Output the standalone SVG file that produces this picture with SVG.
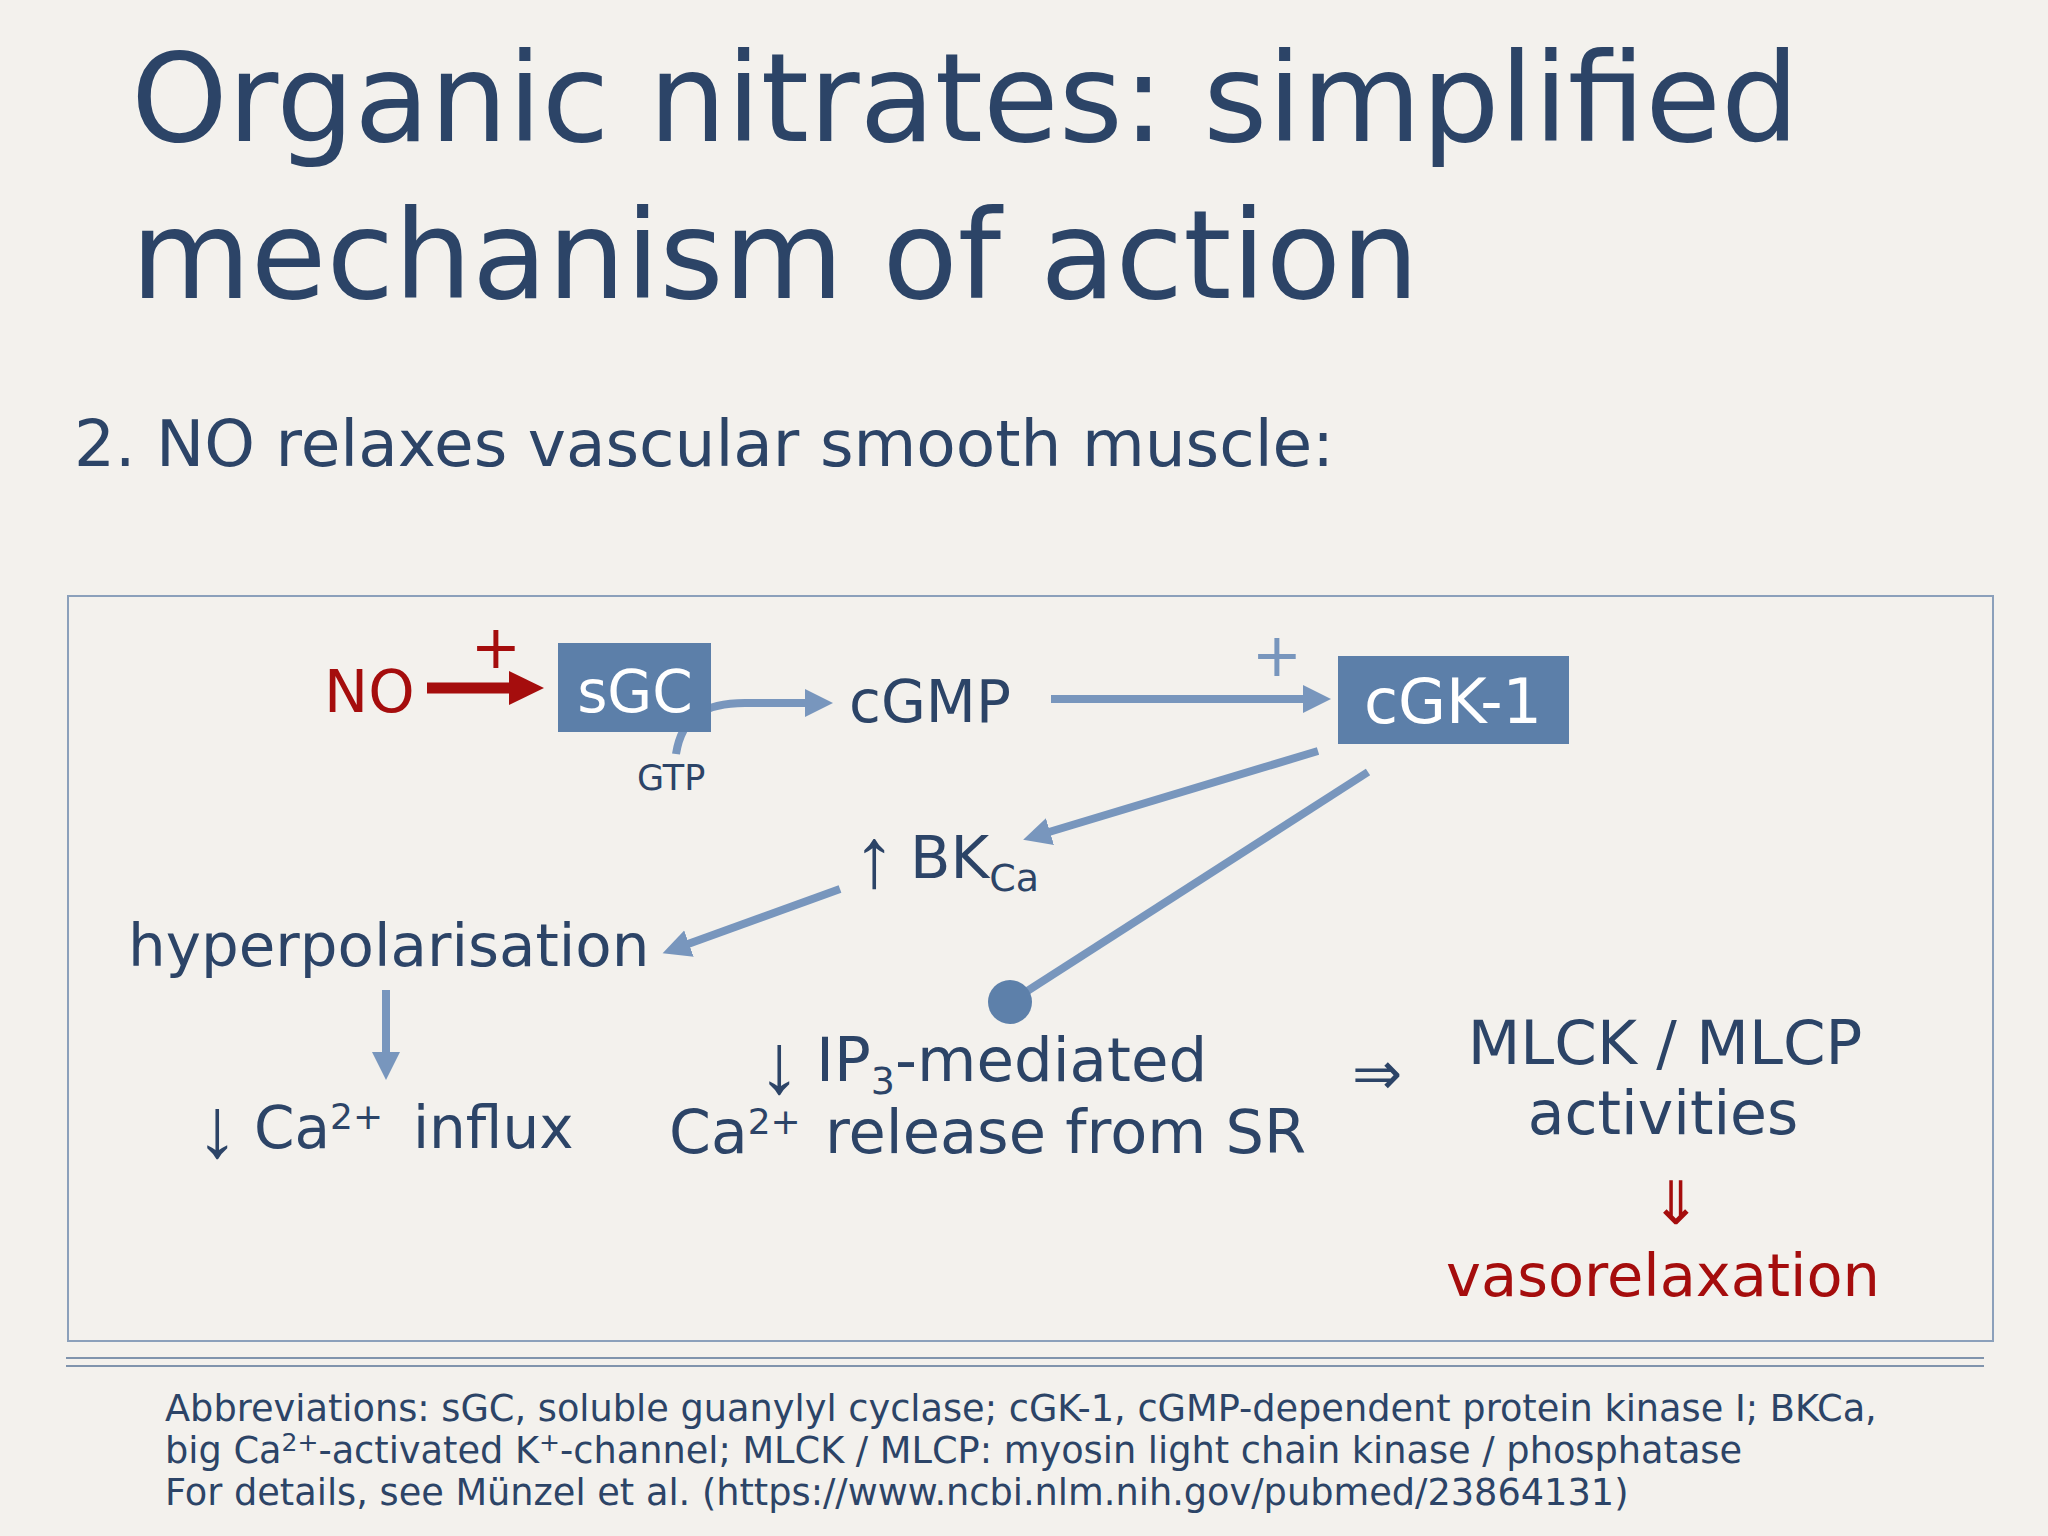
<svg xmlns="http://www.w3.org/2000/svg" width="2048" height="1536" viewBox="0 0 2048 1536">
<style>
  .t { font-family: "DejaVu Sans", Verdana, sans-serif; fill: #2c4467; }
  .red { fill: #a50d0d; }
  .wh { fill: #ffffff; }
  .arr { font-family: "Liberation Sans", Arial, sans-serif; fill: #2c4467; }
  .box { fill: #5c7fa9; }
  .conn { stroke: #7896bd; stroke-width: 8; fill: none; }
</style>
<defs>
  <marker id="ah" markerUnits="userSpaceOnUse" markerWidth="30" markerHeight="30" viewBox="0 0 30 30" refX="1" refY="14" orient="auto">
    <path d="M0,0 L28,14 L0,28 z" fill="#7896bd"/>
  </marker>
  <marker id="ahRed" markerUnits="userSpaceOnUse" markerWidth="38" markerHeight="38" viewBox="0 0 38 38" refX="1" refY="17" orient="auto">
    <path d="M0,0 L35,17 L0,34 z" fill="#a50d0d"/>
  </marker>
</defs>
<rect x="0" y="0" width="2048" height="1536" fill="#f3f1ed"/>

<g id="title">
  <text class="t" x="131" y="141" font-size="123">Organic nitrates: simplified</text>
  <text class="t" x="131" y="298" font-size="123">mechanism of action</text>
</g>
<g id="subtitle">
  <text class="t" x="74" y="466" font-size="64.5">2. NO relaxes vascular smooth muscle:</text>
</g>

<g id="frame">
  <rect x="68" y="596" width="1925" height="745" fill="none" stroke="#8ba0bb" stroke-width="2"/>
  <line x1="66" y1="1358" x2="1984" y2="1358" stroke="#8094ad" stroke-width="2"/>
  <line x1="66" y1="1366" x2="1984" y2="1366" stroke="#8094ad" stroke-width="2"/>
</g>

<g id="connectors">
  <line x1="427" y1="688" x2="510" y2="688" stroke="#a50d0d" stroke-width="11" marker-end="url(#ahRed)"/>
  <path class="conn" d="M676,754 C682,716 705,703 745,703 L806,703" marker-end="url(#ah)"/>
  <line class="conn" x1="1051" y1="699" x2="1304" y2="699" marker-end="url(#ah)"/>
  <line class="conn" x1="1318" y1="751" x2="1049" y2="832" marker-end="url(#ah)"/>
  <line class="conn" x1="840" y1="889" x2="688" y2="944" marker-end="url(#ah)"/>
  <line class="conn" x1="386" y1="990" x2="386" y2="1053" stroke-width="9" marker-end="url(#ah)"/>
  <line class="conn" x1="1368" y1="772" x2="1010" y2="1002"/>
  <circle cx="1010" cy="1002" r="22" fill="#5d80aa"/>
  <text class="t red" x="496" y="668" font-size="60" text-anchor="middle">+</text>
  <text class="t" x="1277" y="676" font-size="60" text-anchor="middle" style="fill:#7896bd">+</text>
</g>

<g id="node-NO">
  <text class="t red" x="324" y="712" font-size="59">NO</text>
</g>
<g id="node-sGC">
  <rect class="box" x="558" y="643" width="153" height="89"/>
  <text class="t wh" x="635" y="712" font-size="58" text-anchor="middle">sGC</text>
</g>
<g id="node-GTP">
  <text class="t" x="637" y="790" font-size="35">GTP</text>
</g>
<g id="node-cGMP">
  <text class="t" x="849" y="722" font-size="58">cGMP</text>
</g>
<g id="node-cGK1">
  <rect class="box" x="1338" y="656" width="231" height="88"/>
  <text class="t wh" x="1453" y="723" font-size="62" text-anchor="middle">cGK-1</text>
</g>
<g id="node-BKCa">
  <text class="arr" x="853" y="887" font-size="85">↑</text>
  <text class="t" x="910" y="878" font-size="59">BK<tspan font-size="38" dy="13">Ca</tspan></text>
</g>
<g id="node-hyperpolarisation">
  <text class="t" x="128" y="966" font-size="59.5">hyperpolarisation</text>
</g>
<g id="node-Ca-influx">
  <text class="arr" x="196" y="1157" font-size="85">↓</text>
  <text class="t" x="254" y="1148" font-size="58">Ca<tspan font-size="36" dy="-19">2+</tspan></text>
  <text class="t" x="413" y="1148" font-size="58">influx</text>
</g>
<g id="node-IP3">
  <text class="arr" x="758" y="1093" font-size="85">↓</text>
  <text class="t" x="816" y="1081" font-size="61">IP<tspan font-size="38" dy="13">3</tspan><tspan dy="-13">-mediated</tspan></text>
  <text class="t" x="669" y="1153" font-size="60">Ca<tspan font-size="36" dy="-19">2+</tspan></text>
  <text class="t" x="825" y="1153" font-size="60.6">release from SR</text>
</g>
<g id="node-implies">
  <text class="t" x="1352" y="1094" font-size="60">⇒</text>
</g>
<g id="node-MLCK">
  <text class="t" x="1665" y="1064" font-size="61" text-anchor="middle">MLCK / MLCP</text>
  <text class="t" x="1663" y="1134" font-size="60" text-anchor="middle">activities</text>
</g>
<g id="node-vasorelaxation">
  <text class="t red" x="1676" y="1224" font-size="60" text-anchor="middle">⇓</text>
  <text class="t red" x="1663" y="1296" font-size="59" text-anchor="middle">vasorelaxation</text>
</g>

<g id="footer">
  <text class="t" x="165" y="1421" font-size="36.7">Abbreviations: sGC, soluble guanylyl cyclase; cGK-1, cGMP-dependent protein kinase I; BKCa,</text>
  <text class="t" x="165" y="1463" font-size="36.7">big Ca<tspan font-size="25" dy="-12">2+</tspan><tspan dy="12">-activated K</tspan><tspan font-size="25" dy="-12">+</tspan><tspan dy="12">-channel; MLCK / MLCP: myosin light chain kinase / phosphatase</tspan></text>
  <text class="t" x="165" y="1505" font-size="36.7">For details, see Münzel et al. (https://www.ncbi.nlm.nih.gov/pubmed/23864131)</text>
</g>
</svg>
